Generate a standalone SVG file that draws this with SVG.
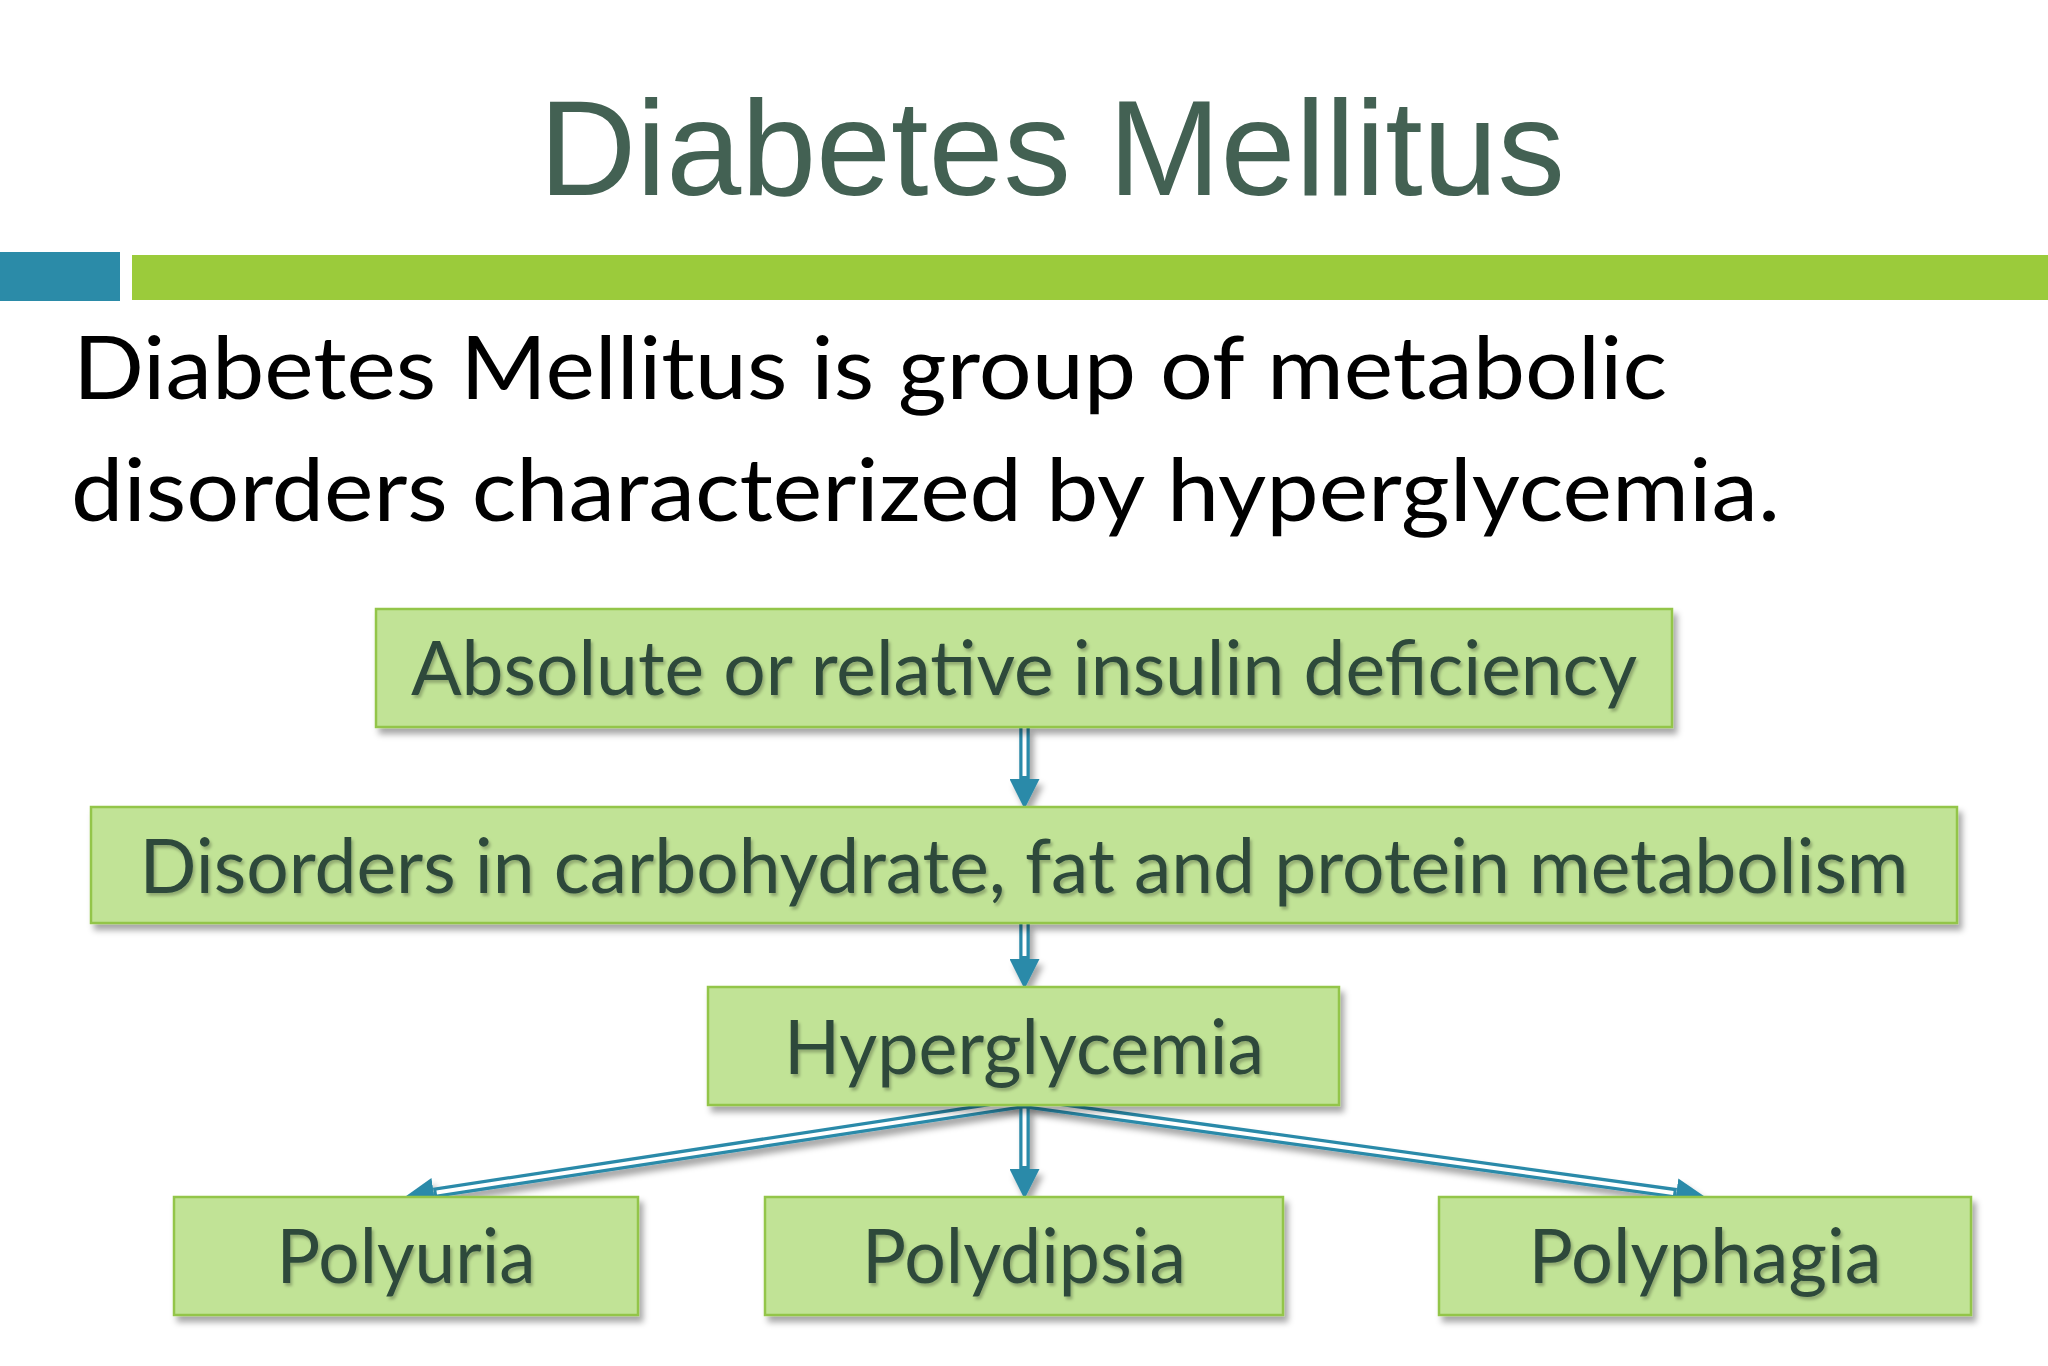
<svg xmlns="http://www.w3.org/2000/svg" width="2048" height="1366" viewBox="0 0 2048 1366">
<defs>
<style>
.title{font-family:"Liberation Sans",Arial,sans-serif;font-size:136px;fill:#436153}
.body{font-family:Lato,"Open Sans",sans-serif;font-size:87px;fill:#000}
.box{fill:#c1e396;stroke:#93c54a;stroke-width:2.5}
.lbl{font-family:Lato,"Open Sans",sans-serif;font-size:75px;fill:#2d4a3b;text-anchor:middle}
.cOut{fill:none;stroke:#2b8aa9;stroke-width:10.5}
.cIn{fill:none;stroke:#ffffff;stroke-width:4}
</style>
<filter id="sh" x="-10%" y="-20%" width="120%" height="150%">
<feDropShadow dx="4" dy="6" stdDeviation="3" flood-color="#000" flood-opacity="0.35"/>
</filter>
<filter id="tsh" x="-5%" y="-20%" width="110%" height="150%">
<feDropShadow dx="2" dy="3" stdDeviation="1.5" flood-color="#000" flood-opacity="0.25"/>
</filter>
<marker id="ah" markerUnits="userSpaceOnUse" markerWidth="30" markerHeight="30" viewBox="0 0 28 28" refX="0" refY="14" orient="auto">
<path d="M0,0 L28,14 L0,28 z" fill="#2b8aa9"/>
</marker>
</defs>
<rect width="2048" height="1366" fill="#ffffff"/>
<g id="header">
<text class="title" x="1052" y="195" text-anchor="middle" textLength="1026" lengthAdjust="spacingAndGlyphs">Diabetes Mellitus</text>
<rect x="0" y="252" width="120" height="49" fill="#2b8ba8"/>
<rect x="132" y="255" width="1916" height="45" fill="#9bcb3b"/>
</g>
<g id="intro">
<text class="body" x="73" y="399" textLength="1594" lengthAdjust="spacingAndGlyphs">Diabetes Mellitus is group of metabolic</text>
<text class="body" x="71" y="521" textLength="1709" lengthAdjust="spacingAndGlyphs">disorders characterized by hyperglycemia.</text>
</g>
<g id="connectors" filter="url(#sh)">
<path class="cOut" d="M1024.5,727 L1024.5,779" marker-end="url(#ah)"/>
<path class="cIn" d="M1024.5,727 L1024.5,776"/>
<path class="cOut" d="M1024.5,923 L1024.5,959" marker-end="url(#ah)"/>
<path class="cIn" d="M1024.5,923 L1024.5,956"/>
<path class="cOut" d="M1024.5,1105 L1024.5,1169" marker-end="url(#ah)"/>
<path class="cIn" d="M1024.5,1105 L1024.5,1166"/>
<path class="cOut" d="M1024,1103 L433.7,1192.9" marker-end="url(#ah)"/>
<path class="cIn" d="M1024,1103 L436.7,1192.4"/>
<path class="cOut" d="M1024,1103 L1676.3,1193.3" marker-end="url(#ah)"/>
<path class="cIn" d="M1024,1103 L1673.3,1192.9"/>
</g>
<g id="n1">
<rect class="box" x="376" y="609" width="1296" height="118" filter="url(#sh)"/>
<text class="lbl" x="1024" y="695" textLength="1226" lengthAdjust="spacingAndGlyphs" filter="url(#tsh)">Absolute or relative insulin deficiency</text>
</g>
<g id="n2">
<rect class="box" x="91" y="807" width="1866" height="116" filter="url(#sh)"/>
<text class="lbl" x="1024" y="893" textLength="1769" lengthAdjust="spacingAndGlyphs" filter="url(#tsh)">Disorders in carbohydrate, fat and protein metabolism</text>
</g>
<g id="n3">
<rect class="box" x="708" y="987" width="631" height="118" filter="url(#sh)"/>
<text class="lbl" x="1024" y="1074" textLength="480" lengthAdjust="spacingAndGlyphs" filter="url(#tsh)">Hyperglycemia</text>
</g>
<g id="n4">
<rect class="box" x="174" y="1197" width="464" height="118" filter="url(#sh)"/>
<text class="lbl" x="406" y="1283" textLength="259" lengthAdjust="spacingAndGlyphs" filter="url(#tsh)">Polyuria</text>
</g>
<g id="n5">
<rect class="box" x="765" y="1197" width="518" height="118" filter="url(#sh)"/>
<text class="lbl" x="1024" y="1283" textLength="324" lengthAdjust="spacingAndGlyphs" filter="url(#tsh)">Polydipsia</text>
</g>
<g id="n6">
<rect class="box" x="1439" y="1197" width="532" height="118" filter="url(#sh)"/>
<text class="lbl" x="1705" y="1283" textLength="353" lengthAdjust="spacingAndGlyphs" filter="url(#tsh)">Polyphagia</text>
</g>
</svg>
